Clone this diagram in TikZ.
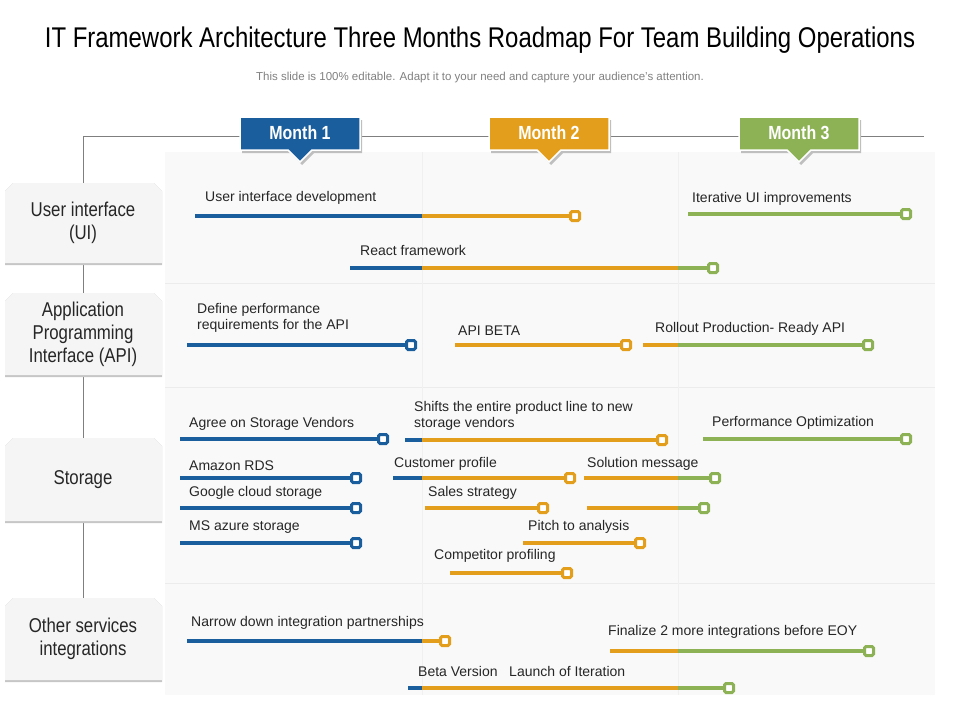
\documentclass[tikz,border=0pt]{standalone}
\usepackage{fontspec}
\setmainfont{Liberation Sans}
\newfontfamily\narrowf[FakeStretch=0.84]{Liberation Sans}
\newfontfamily\narrowb[FakeStretch=0.84]{Liberation Sans Bold}
\definecolor{cb}{HTML}{1B5E9E}
\definecolor{co}{HTML}{E39E1B}
\definecolor{cg}{HTML}{8DB255}
\definecolor{ln}{HTML}{7F7F7F}
\definecolor{tx}{HTML}{262626}
\begin{document}
\begin{tikzpicture}[x=1pt,y=-1pt,
 lab/.style={anchor=south west,font=\fontsize{14}{16.5}\selectfont,text=tx,inner sep=0pt,align=left},
 bar/.style={line width=3.2pt},
 mk/.style={draw=#1,fill=white,line width=3pt,rounded corners=1.5pt,minimum size=9pt,inner sep=0pt},
 cat/.style={font=\narrowf\fontsize{20}{23}\selectfont,text=tx,align=center},
 mon/.style={font=\narrowb\fontsize{19}{21}\selectfont,text=white}]
\useasboundingbox (0,0) rectangle (960,720);
% background grid area
\fill[gray!5] (165,152) rectangle (935,695);
\foreach \y in {283,387,583}{\draw[gray!15,line width=1pt] (165,\y) -- (935,\y);}
\foreach \x in {422,678}{\draw[gray!12,line width=0.6pt] (\x,152) -- (\x,695);}
% title
\node[font=\narrowf\fontsize{28.5}{32}\selectfont,text=black] (title) at (480,40) {IT Framework Architecture Three Months Roadmap For Team Building Operations};
\node[font=\fontsize{11.5}{13}\selectfont,text=gray] (sub) at (480,78) {This slide is 100\% editable. Adapt it to your need and capture your audience’s attention.};
% frame lines
\coordinate (c0) at (83,136); \coordinate (c1) at (924,136); \coordinate (c2) at (83,598);
\draw[ln,line width=0.8pt] (c2) -- (c0) -- (c1);
% month tabs
\foreach \cx/\col/\t in {300/cb/Month 1,549/co/Month 2,799/cg/Month 3}{
 \fill[black!25] (\cx-60+2,117+3) -- (\cx+60+2,117+3) -- (\cx+60+2,150+3) -- (\cx+12+2,150+3) -- (\cx+2,162+3) -- (\cx-12+2,150+3) -- (\cx-60+2,150+3) -- cycle;
 \filldraw[fill=\col,draw=white,line width=1.5pt] (\cx-60,117) -- (\cx+60,117) -- (\cx+60,150) -- (\cx+12,150) -- (\cx,162) -- (\cx-12,150) -- (\cx-60,150) -- cycle;
 \node[mon] at (\cx,133) {\t};
}
% category boxes
\foreach \ya/\yb/\t [count=\i] in {183/263/{User interface\\(UI)},293/375/{Application\\Programming\\Interface (API)},438/521/{Storage},598/680/{Other services\\integrations}}{
 \fill[gray!45] (5,\ya+8) -- (13,\ya) -- (154,\ya) -- (162,\ya+8) -- (162,\yb+2) -- (5,\yb+2) -- cycle;
 \fill[gray!8] (5,\ya+8) -- (13,\ya) -- (154,\ya) -- (162,\ya+8) -- (162,\yb) -- (5,\yb) -- cycle;
 \node[cat] (cat\i) at (83,{(\ya+\yb)/2}) {\t};
}
% bars: y, x0, x1, end colour
\newcommand{\rbar}[4]{%
 \pgfmathsetmacro{\xa}{#2}\pgfmathsetmacro{\xb}{#3}
 \ifdim\xa pt<422pt \draw[bar,cb] (#2,#1) -- ({min(#3,422)},#1);\fi
 \ifdim\xb pt>422pt \ifdim\xa pt<678pt \draw[bar,co] ({max(#2,422)},#1) -- ({min(#3,678)},#1);\fi\fi
 \ifdim\xb pt>678pt \draw[bar,cg] ({max(#2,678)},#1) -- (#3,#1);\fi
 \node[mk=#4] at (#3,#1) {};}
\rbar{216}{195}{575}{co} \node[lab] at (205,205) {User interface development};
\rbar{214}{688}{906}{cg} \node[lab] at (692,206) {Iterative UI improvements};
\rbar{268}{350}{713}{cg} \node[lab] at (360,256) {React framework};
\rbar{345}{187}{411}{cb} \node[lab] at (197,333) {Define performance\\requirements for the API};
\rbar{345}{455}{626}{co} \node[lab] at (458,336) {API BETA};
\rbar{345}{643}{868}{cg} \node[lab] at (655,336) {Rollout Production-  Ready API};
\rbar{439}{180}{383}{cb} \node[lab] at (189,431) {Agree on Storage Vendors};
\rbar{440}{405}{662}{co} \node[lab] at (414,431) {Shifts the entire product line to new\\storage vendors};
\rbar{439}{703}{906}{cg} \node[lab] at (712,430) {Performance Optimization};
\rbar{478}{180}{356}{cb} \node[lab] at (189,471) {Amazon RDS};
\rbar{478}{393}{570}{co} \node[lab] at (394,471) {Customer profile};
\rbar{478}{584}{715}{cg} \node[lab] at (587,471) {Solution message};
\rbar{508}{180}{356}{cb} \node[lab] at (189,500) {Google cloud storage};
\rbar{508}{425}{543}{co} \node[lab] at (428,500) {Sales strategy};
\rbar{508}{587}{704}{cg}
\rbar{543}{180}{356}{cb} \node[lab] at (189,534) {MS azure storage};
\rbar{543}{523}{640}{co} \node[lab] at (528,534) {Pitch to analysis};
\rbar{573}{450}{567}{co} \node[lab] at (434,563) {Competitor profiling};
\rbar{641}{187}{445}{co} \node[lab] at (191,630) {Narrow down integration partnerships};
\rbar{651}{610}{869}{cg} \node[lab] at (608,639) {Finalize 2 more integrations before EOY};
\rbar{688}{408}{729}{cg} \node[lab] at (418,677) {Beta Version~~ Launch of Iteration};
\end{tikzpicture}
\end{document}
